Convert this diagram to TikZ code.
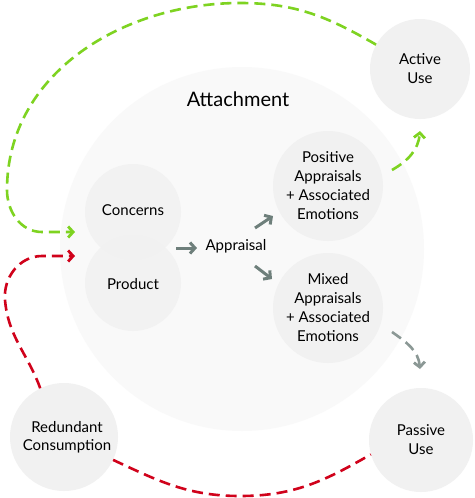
\documentclass[tikz,border=0pt]{standalone}
\usepackage{fontspec}
\setmainfont{Lato}
\usetikzlibrary{arrows.meta}
\definecolor{bigfill}{HTML}{F9F9F9}
\definecolor{cfill}{HTML}{F1F1F1}
\definecolor{lgreen}{HTML}{7ED321}
\definecolor{dred}{HTML}{D0021B}
\definecolor{agray}{HTML}{6E7F7B}
\tikzset{
  bubble/.style={circle, fill=cfill, inner sep=0pt, align=center, font=\fontsize{15}{19}\selectfont},
  flow/.style={line width=2.6pt, dash pattern=on 11pt off 6pt, -{Straight Barb[length=5pt,width=11pt,line width=2.8pt]}},
  flownotip/.style={line width=2.6pt, dash pattern=on 11pt off 6pt},
  solidarr/.style={agray, line width=3pt, -{Straight Barb[length=5pt,width=11pt,line width=3pt]}},
  lbl/.style={font=\fontsize{15}{19}\selectfont, inner sep=1pt}
}
\begin{document}
\begin{tikzpicture}[x=1pt,y=-1pt]
\useasboundingbox (0,0) rectangle (474,498);
\fill[white] (0,0) rectangle (474,498);
% big attachment circle
\node[circle, fill=bigfill, minimum size=364pt, inner sep=0pt] (att) at (242,249) {};
\node[font=\fontsize{20}{24}\selectfont] (atttxt) at (238,99) {Attachment};
% bubbles
\node[bubble, minimum size=100pt] (act) at (420,69) {Active\\Use};
\node[bubble, minimum size=110pt] (pos) at (328,186) {Positive\\Appraisals\\+ Associated\\Emotions};
\node[bubble, minimum size=110pt] (mix) at (328,308) {Mixed\\Appraisals\\+ Associated\\Emotions};
\node[bubble, minimum size=96pt, fill opacity=0.85, text opacity=1] (con) at (133,212) {};
\node[bubble, minimum size=96pt, fill opacity=0.85, text opacity=1] (pro) at (133,283) {};
\node[lbl] (contxt) at (133,210) {Concerns};
\node[lbl] (protxt) at (133,284) {Product};
\node[bubble, minimum size=108pt] (red) at (64,437) {};
\node[lbl, align=center, font=\fontsize{15}{18}\selectfont] (redtxt) at (67,437) {Redundant\\Consumption};
\node[bubble, minimum size=104pt] (pas) at (421,440) {Passive\\Use};
\node[lbl] (app) at (236,246) {Appraisal};
% free ends
\coordinate (gin) at (75,232);
\coordinate (rin) at (75,256);
\coordinate (gtop) at (240,3);
\coordinate (gleft) at (7,190);
\coordinate (gh) at (42,232);
\coordinate (rleft) at (5,300);
\coordinate (rh) at (42,256);
\coordinate (rbot) at (240,496);
\coordinate (pstart) at (392,170);
\coordinate (pend) at (420,131);
\coordinate (mstart) at (392,332);
\coordinate (mend) at (420,369);
\coordinate (a1s) at (176,248);
\coordinate (a1e) at (197,248);
\coordinate (a2s) at (255,228);
\coordinate (a2e) at (273,216);
\coordinate (a3s) at (255,266);
\coordinate (a3e) at (272,279);
% gray arrows
\draw[solidarr] (a1s) -- (a1e);
\draw[solidarr] (a2s) -- (a2e);
\draw[solidarr] (a3s) -- (a3e);
% green loops
\draw[flow, lgreen] (act.151) to[out=150,in=0] (gtop) to[out=180,in=90] (gleft) to[out=-90,in=180] (gh) -- (gin);
\draw[flow, lgreen] (pstart) to[out=30,in=-95] (pend);
% red loops
\draw[flow, dred] (red.116) to[out=110,in=-85] (rleft) to[out=95,in=180] (rh) -- (rin);
\draw[flownotip, dred] (red.-25) to[out=-25,in=180] (rbot) to[out=0,in=-150] (pas.196);
% gray dashed
\draw[flow, agray!80] (mstart) to[out=-35,in=95] (mend);
\end{tikzpicture}
\end{document}
